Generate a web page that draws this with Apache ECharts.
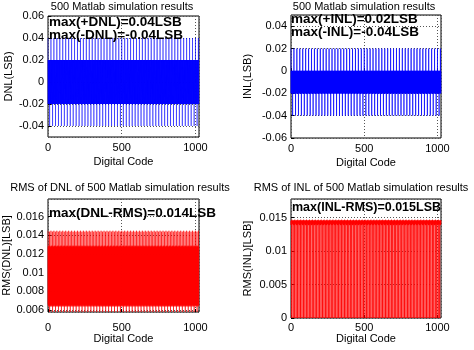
<!DOCTYPE html>
<html>
<head>
<meta charset="utf-8">
<script src="https://cdn.jsdelivr.net/npm/echarts@6/dist/echarts.min.js"></script>
<style>
html, body { margin: 0; padding: 0; background: #fff; }
#chart { width: 474px; height: 350px; }
</style>
</head>
<body>
<div id="chart"></div>
<script>
// codes on the x axis, 0 .. 1023
var codeCount = 1024;
var xTickStep = 500;

// one repeating period of each curve (LSB)
var dnlPeriod = [0.04, -0.02, 0.02, -0.02, 0.02, -0.02, 0.02, -0.02, 0.02, -0.02,
                 0.02, -0.04, 0.02, -0.02, 0.02, -0.02, 0.02, -0.02, 0.02, -0.02];
var inlPeriod = [0.02, -0.02, 0, -0.02, 0, -0.02, 0, -0.02, 0, -0.02,
                 0, -0.04, 0, -0.02, 0, -0.02, 0, -0.02, 0, -0.02];
var dnlRmsPeriod = [0.0145, 0.0066, 0.0128, 0.0064, 0.0129, 0.0066, 0.0127, 0.0065, 0.0128, 0.0064,
                    0.0144, 0.0058, 0.0129, 0.0065, 0.0128, 0.0066, 0.0127, 0.0064, 0.0128, 0.0065];
var inlRmsPeriod = [0.0145, 0.0139, 0.0146, 0.0141, 0.0144, 0, 0.0147, 0.0140, 0.0145, 0.0141,
                    0.0143, 0.0139, 0.0146, 0.0142, 0.0144, 0, 0.0145, 0.0140, 0.0146, 0.0139];

var titles = ['500 Matlab simulation results', '500 Matlab simulation results',
              'RMS of DNL of 500 Matlab simulation results', 'RMS of INL of 500 Matlab simulation results'];
var yNames = ['DNL(LSB)', 'INL(LSB)', 'RMS(DNL)[LSB]', 'RMS(INL)[LSB]'];
var notes = [['max(+DNL)=0.04LSB', 'max(-DNL)=-0.04LSB'],
             ['max(+INL)=0.02LSB', 'max(-INL)=-0.04LSB'],
             ['max(DNL-RMS)=0.014LSB'],
             ['max(INL-RMS)=0.015LSB']];
var yRanges = [[-0.05, 0.06], [-0.06, 0.05], [0.0058, 0.0179], [0, 0.0178]];

function tile(period) {
    var out = [];
    for (var i = 0; i < codeCount; i++) {
        out.push([i, period[i % period.length]]);
    }
    return out;
}

var font = 'Liberation Sans, Arial, sans-serif';
var grids = [
    {left: 48, top: 16, width: 151, height: 121},
    {left: 291, top: 15, width: 150, height: 123},
    {left: 48, top: 199, width: 151, height: 113},
    {left: 291, top: 199, width: 150, height: 119}
];
var titlePos = [[122, 1], [364, 1], [120, 182], [361, 182]];
// x, centre y of first line, font size
var notePos = [[49, 22, 13.5], [291, 19, 13.5], [49, 213, 13.5], [292, 208, 12.5]];
var yGaps = [34, 38, 34, 38];
var xMargins = [5, 5, 10, 4];
var xNameGaps = [19, 19, 20, 14];
var ySplit = [5, 5, 6, 4];
var colors = ['#0000ff', '#0000ff', '#ff0000', '#ff0000'];
var widths = [0.5, 0.7, 0.6, 0.8];
var curves = [dnlPeriod, inlPeriod, dnlRmsPeriod, inlRmsPeriod];

var gridLine = {show: true, lineStyle: {color: '#555', type: [1, 2], width: 1}};

var option = {
    animation: false,
    title: [], grid: [], xAxis: [], yAxis: [], series: [], graphic: []
};

for (var k = 0; k < 4; k++) {
    option.title.push({
        text: titles[k], left: titlePos[k][0], top: titlePos[k][1], textAlign: 'center', padding: 0,
        textStyle: {fontSize: 11, fontWeight: 'normal', color: '#000', fontFamily: font}
    });
    option.grid.push(Object.assign({show: true, borderColor: '#000', borderWidth: 1, backgroundColor: '#fff'}, grids[k]));
    option.xAxis.push({
        type: 'value', gridIndex: k, min: 0, max: codeCount, interval: xTickStep,
        name: 'Digital Code', nameLocation: 'middle', nameGap: xNameGaps[k],
        nameTextStyle: {fontSize: 11, color: '#000', fontFamily: font},
        axisLine: {show: false},
        axisTick: {inside: true, length: 3, lineStyle: {color: '#000'}},
        axisLabel: {fontSize: 11, color: '#000', fontFamily: font, margin: xMargins[k], showMaxLabel: false,
                    formatter: function (v) { return String(v); }},
        splitLine: gridLine
    });
    option.yAxis.push({
        type: 'value', gridIndex: k, min: yRanges[k][0], max: yRanges[k][1], splitNumber: ySplit[k],
        name: yNames[k], nameLocation: 'middle', nameGap: yGaps[k],
        nameTextStyle: {fontSize: 11, color: '#000', fontFamily: font},
        axisLine: {show: false},
        axisTick: {inside: true, length: 3, lineStyle: {color: '#000'}},
        axisLabel: {fontSize: 11, color: '#000', fontFamily: font, margin: 4,
                    showMinLabel: yRanges[k][0] === -0.06 || yRanges[k][0] === 0,
                    showMaxLabel: yRanges[k][1] === 0.06},
        splitLine: gridLine
    });
    option.series.push({
        type: 'line', xAxisIndex: k, yAxisIndex: k, data: tile(curves[k]),
        showSymbol: false, symbol: 'none', sampling: null, clip: true,
        lineStyle: {color: colors[k], width: widths[k]}
    });
    for (var j = 0; j < notes[k].length; j++) {
        option.graphic.push({
            type: 'text', x: notePos[k][0], y: notePos[k][1] + j * 13.5, z: 100,
            style: {text: notes[k][j], fill: '#000', fontSize: notePos[k][2], fontWeight: 'bold',
                    fontFamily: font, verticalAlign: 'middle', align: 'left'}
        });
    }
}

var myChart = echarts.init(document.getElementById('chart'));
myChart.setOption(option);
</script>
</body>
</html>
